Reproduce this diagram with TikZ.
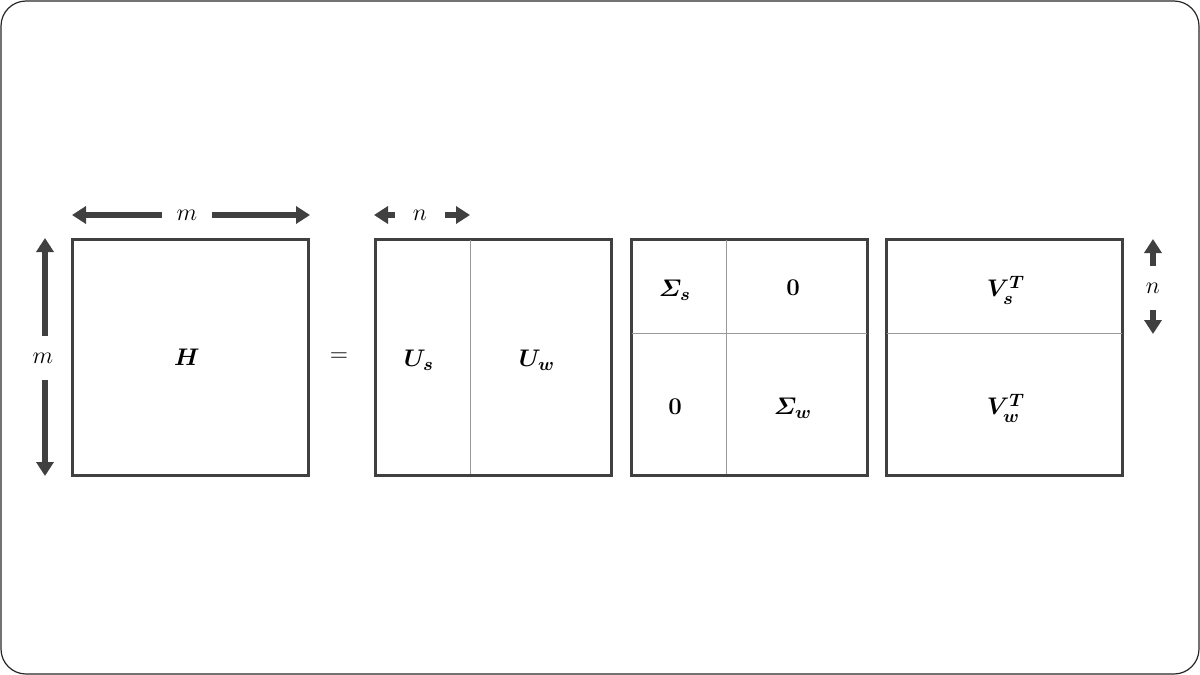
\documentclass[tikz,border=0pt]{standalone}
\usepackage{amsmath}
\usetikzlibrary{arrows.meta}
\definecolor{dk}{HTML}{404040}
\definecolor{thin}{HTML}{999999}
\begin{document}
\begin{tikzpicture}[x=0.5pt,y=-0.5pt,
  every node/.style={font=\fontsize{12.5}{15}\selectfont},
  mat/.style={draw=dk,line width=1.5pt,minimum size=118pt,inner sep=0pt},
  sep/.style={draw=thin,line width=0.5pt},
  arr/.style={draw=dk,line width=2.6pt,-{Triangle[length=7pt,width=8.5pt]}},
  hlab/.style={minimum width=25pt,inner sep=0pt},
  vlab/.style={minimum height=21.5pt,inner sep=0pt},
  lab/.style={inner sep=0pt}]
\useasboundingbox (0,0) rectangle (1200,675);
\draw[black!85,line width=0.6pt,rounded corners=12.5pt] (1,1) rectangle (1199,674);
% matrices
\node[mat] (H) at (190.5,357) {};
\node[mat] (U) at (493,357) {};
\node[mat] (S) at (749.5,357) {};
\node[mat] (V) at (1004.5,357) {};
% separators
\coordinate (ut) at (470,240); \coordinate (ub) at (470,474);
\draw[sep] (ut) -- (ub);
\coordinate (st) at (726,240); \coordinate (sb) at (726,474);
\coordinate (sl) at (632,333); \coordinate (sr) at (867,333);
\draw[sep] (st) -- (sb);
\draw[sep] (sl) -- (sr);
\coordinate (vl) at (887,333); \coordinate (vr) at (1122,333);
\draw[sep] (vl) -- (vr);
% labels
\node[lab] (lH) at (187,357) {$\boldsymbol{H}$};
\node[lab] (eq) at (339,357) {$=$};
\node[lab] (lUs) at (419,360) {$\boldsymbol{U_s}$};
\node[lab] (lUw) at (537,360) {$\boldsymbol{U_w}$};
\node[lab] (lSs) at (675,290) {$\boldsymbol{\varSigma_s}$};
\node[lab] (lZ1) at (793,288) {$\mathbf{0}$};
\node[lab] (lZ2) at (675,407) {$\mathbf{0}$};
\node[lab] (lSw) at (793,408) {$\boldsymbol{\varSigma_w}$};
\node[lab] (lVs) at (1006,290) {$\boldsymbol{V_s^T}$};
\node[lab] (lVw) at (1006,408) {$\boldsymbol{V_w^T}$};
% dimension arrows
\node[hlab] (mt) at (187,215) {$m$};
\coordinate (mtl) at (72,215); \coordinate (mtr) at (310,215);
\draw[arr] (mt.west) -- (mtl);
\draw[arr] (mt.east) -- (mtr);
\node[vlab] (ml) at (43,358) {$m$};
\coordinate (mlt) at (45,238); \coordinate (mlb) at (45,476);
\draw[arr] (ml.north -| mlt) -- (mlt);
\draw[arr] (ml.south -| mlb) -- (mlb);
\node[hlab] (nt) at (420,215) {$n$};
\coordinate (ntl) at (374,215); \coordinate (ntr) at (470,215);
\draw[arr] (nt.west) -- (ntl);
\draw[arr] (nt.east) -- (ntr);
\node[vlab] (nr) at (1153,288) {$n$};
\coordinate (nrt) at (1153,239); \coordinate (nrb) at (1153,334);
\draw[arr] (nr.north) -- (nrt);
\draw[arr] (nr.south) -- (nrb);
\end{tikzpicture}
\end{document}
